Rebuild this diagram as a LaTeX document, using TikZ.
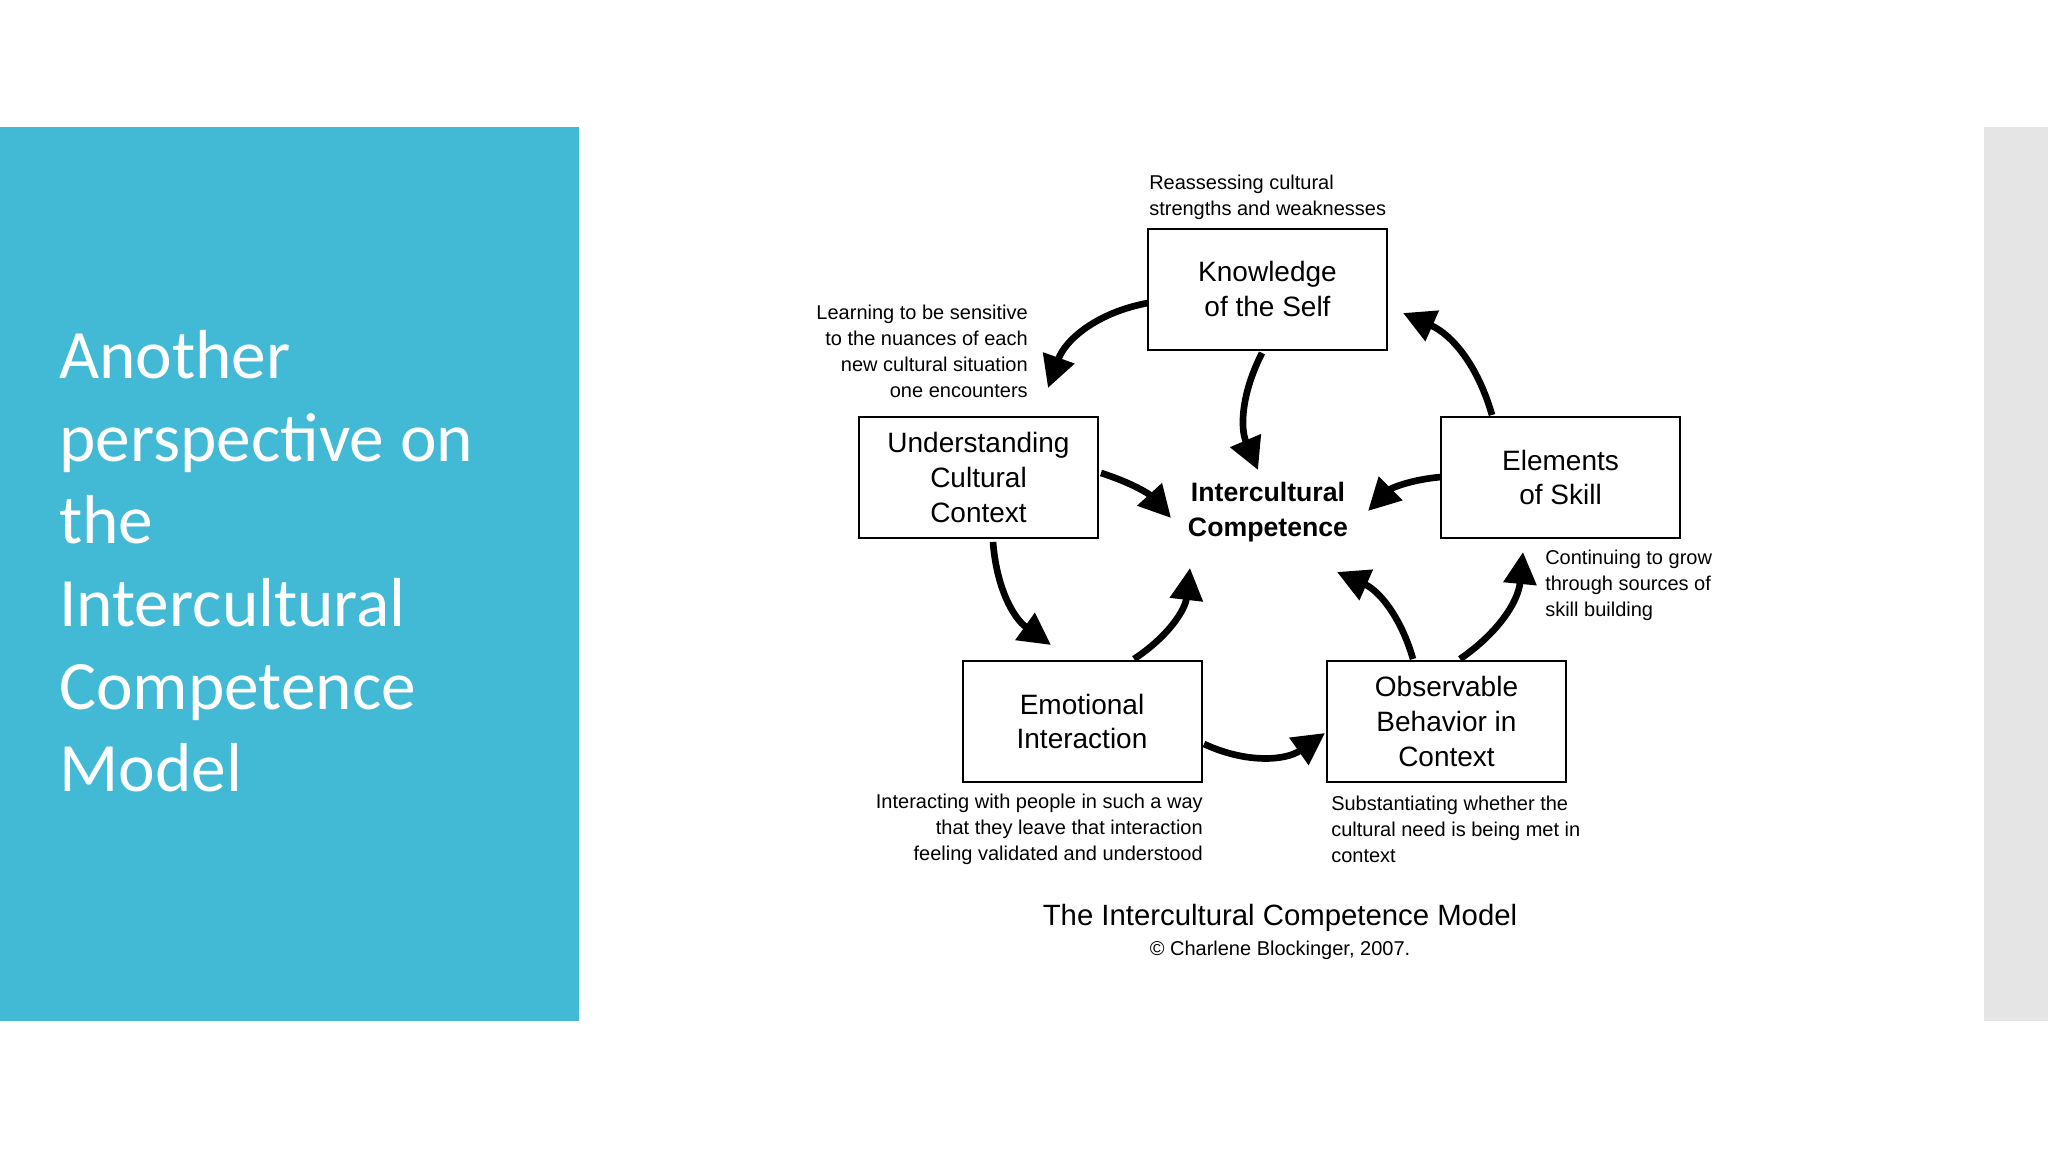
\documentclass[tikz,border=0pt]{standalone}
\usepackage{fontspec}
\setmainfont{Liberation Sans}
\newfontfamily\titlefont{Carlito}
\usetikzlibrary{arrows.meta}
\begin{document}
\begin{tikzpicture}[x=0.75pt,y=-0.75pt,
  box/.style={draw,line width=1.5,minimum width=239*0.75pt,minimum height=121*0.75pt,align=center,font=\fontsize{21}{26}\selectfont,inner sep=0},
  note/.style={font=\fontsize{15}{19.5}\selectfont,inner sep=0},
  arr/.style={line width=5,-{Triangle[length=24pt,width=24pt]}}]
\useasboundingbox (0,0) rectangle (2048,1152);
\fill[white] (0,0) rectangle (2048,1152);
\fill[cyan!55!blue!60!white, fill={rgb,255:red,66;green,185;blue,213}] (0,127) rectangle (579,1021);
\fill[gray!20] (1984,127) rectangle (2048,1021);
\node[anchor=north west,align=left,text=white,font=\titlefont\fontsize{52}{62}\selectfont,inner sep=0] (title) at (59,330) {Another\\perspective on\\the\\Intercultural\\Competence\\Model};
\node[box] (know) at (1267.5,289) {Knowledge\\of the Self};
\node[box] (und) at (978.5,477.5) {Understanding\\Cultural\\Context};
\node[box] (elem) at (1560.5,477.5) {Elements\\of Skill};
\node[box] (emo) at (1082,721.5) {Emotional\\Interaction};
\node[box] (obs) at (1446.5,721.5) {Observable\\Behavior in\\Context};
\node[align=center,font=\bfseries\fontsize{20}{26}\selectfont] (ic) at (1268,512) {Intercultural\\Competence};
\node[note,anchor=west,align=left] (n1) at (1149,197) {Reassessing cultural\\strengths and weaknesses};
\node[note,anchor=east,align=right] (n2) at (1028,351) {Learning to be sensitive\\to the nuances of each\\new cultural situation\\one encounters};
\node[note,anchor=west,align=left] (n3) at (1545,585) {Continuing to grow\\through sources of\\skill building};
\node[note,anchor=east,align=right] (n4) at (1203,829) {Interacting with people in such a way\\that they leave that interaction\\feeling validated and understood};
\node[note,anchor=west,align=left] (n5) at (1331,829) {Substantiating whether the\\cultural need is being met in\\context};
\node[font=\fontsize{22}{26}\selectfont] (cap) at (1280,918) {The Intercultural Competence Model};
\node[font=\fontsize{15}{18}\selectfont] (copy) at (1280,950) {\textcopyright\ Charlene Blockinger, 2007.};
\coordinate (a1s) at (1148,303); \coordinate (a1e) at (1048,388);
\coordinate (a2s) at (1262,353); \coordinate (a2e) at (1258,470);
\coordinate (a3s) at (1492,415); \coordinate (a3e) at (1403,313);
\coordinate (a4s) at (1441,477); \coordinate (a4e) at (1368,511);
\coordinate (a5s) at (1101,473); \coordinate (a5e) at (1171,518);
\coordinate (a6s) at (993,542); \coordinate (a6e) at (1051,645);
\coordinate (a7s) at (1134,659); \coordinate (a7e) at (1190,568);
\coordinate (a8s) at (1204,744); \coordinate (a8e) at (1325,733);
\coordinate (a9s) at (1413,659); \coordinate (a9e) at (1337,572);
\coordinate (a10s) at (1460,659); \coordinate (a10e) at (1523,552);
\draw[arr] (a1s) to[bend right=30] (a1e);
\draw[arr] (a2s) to[bend right=25] (a2e);
\draw[arr] (a3s) to[bend right=25] (a3e);
\draw[arr] (a4s) to[bend right=20] (a4e);
\draw[arr] (a5s) to[bend left=15] (a5e);
\draw[arr] (a6s) to[bend right=25] (a6e);
\draw[arr] (a7s) to[bend right=25] (a7e);
\draw[arr] (a8s) to[bend right=30] (a8e);
\draw[arr] (a9s) to[bend right=25] (a9e);
\draw[arr] (a10s) to[bend right=25] (a10e);
\end{tikzpicture}
\end{document}
